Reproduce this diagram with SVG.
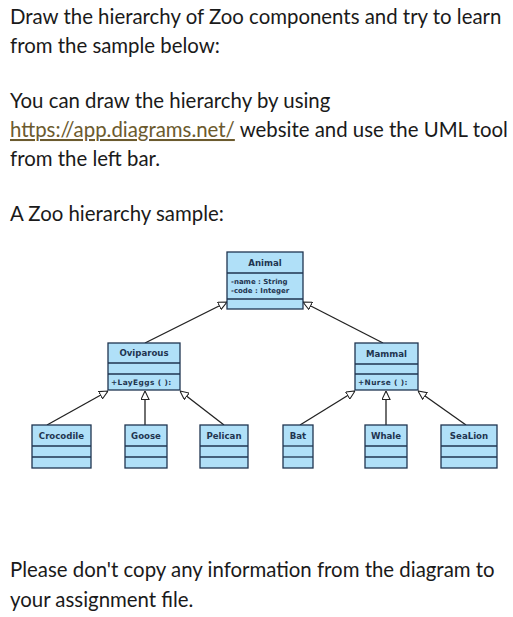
<svg xmlns="http://www.w3.org/2000/svg" width="513" height="617" viewBox="0 0 513 617">
<style>
.t{font-family:Lato,"Open Sans","Liberation Sans",sans-serif;font-size:20.4px;fill:#1a1a1a}
.lnk{fill:#6b5a2e;text-decoration:underline}
.box{fill:#b0e0f8;stroke:#1f3550;stroke-width:1.3}
.sep{stroke:#1f3550;stroke-width:1.3}
.nm{font-family:"DejaVu Sans","Liberation Sans",sans-serif;font-size:8.6px;font-weight:bold;fill:#1f3550;text-anchor:middle}
.at{font-family:"DejaVu Sans","Liberation Sans",sans-serif;font-size:7px;font-weight:bold;fill:#1f3550}
.op{font-family:"DejaVu Sans","Liberation Sans",sans-serif;font-size:7.4px;font-weight:bold;fill:#1f3550;letter-spacing:0.4px}
.c{stroke:#222;stroke-width:1.3;fill:none;marker-end:url(#tri)}
</style>
<defs>
<marker id="tri" viewBox="0 0 10 10" refX="10" refY="5" markerWidth="9" markerHeight="9" markerUnits="userSpaceOnUse" orient="auto">
<path d="M0.5,0.5 L10,5 L0.5,9.5 z" fill="#fff" stroke="#222" stroke-width="1.2"/>
</marker>
</defs>
<rect width="513" height="617" fill="#fff"/>
<g id="text">
<text class="t" x="10" y="24">Draw the hierarchy of Zoo components and try to learn</text>
<text class="t" x="10" y="53">from the sample below:</text>
<text class="t" x="10" y="108">You can draw the hierarchy by using</text>
<text class="t" x="10" y="137"><tspan class="lnk">https://app.diagrams.net/</tspan> website and use the UML tool</text>
<text class="t" x="10" y="166">from the left bar.</text>
<text class="t" x="10" y="221">A Zoo hierarchy sample:</text>
<text class="t" x="10" y="577">Please don't copy any information from the diagram to</text>
<text class="t" x="10" y="607">your assignment file.</text>
</g>
<g id="connectors">
<line class="c" x1="145" y1="343" x2="227" y2="302"/>
<line class="c" x1="383" y1="343" x2="303" y2="302"/>
<line class="c" x1="47" y1="425" x2="108" y2="391"/>
<line class="c" x1="145" y1="425" x2="145" y2="391"/>
<line class="c" x1="224" y1="425" x2="180" y2="391"/>
<line class="c" x1="300" y1="425" x2="355" y2="391"/>
<line class="c" x1="386" y1="425" x2="386" y2="391"/>
<line class="c" x1="466" y1="425" x2="418" y2="391"/>
</g>
<g id="animal">
<rect class="box" x="227" y="252" width="76" height="57"/>
<line class="sep" x1="227" y1="273" x2="303" y2="273"/>
<line class="sep" x1="227" y1="299" x2="303" y2="299"/>
<text class="nm" x="265" y="266">Animal</text>
<text class="at" x="231" y="284">-name : String</text>
<text class="at" x="231" y="293">-code : Integer</text>
</g>
<g id="oviparous">
<rect class="box" x="108" y="343" width="72" height="47"/>
<line class="sep" x1="108" y1="363" x2="180" y2="363"/>
<line class="sep" x1="108" y1="374" x2="180" y2="374"/>
<text class="nm" x="144" y="356">Oviparous</text>
<text class="op" x="111" y="385">+LayEggs ( ):</text>
</g>
<g id="mammal">
<rect class="box" x="355" y="343" width="63" height="47"/>
<line class="sep" x1="355" y1="364" x2="418" y2="364"/>
<line class="sep" x1="355" y1="374" x2="418" y2="374"/>
<text class="nm" x="386.5" y="357">Mammal</text>
<text class="op" x="358" y="385">+Nurse ( ):</text>
</g>
<g id="crocodile">
<rect class="box" x="32" y="425" width="59" height="43"/>
<line class="sep" x1="32" y1="446" x2="91" y2="446"/>
<line class="sep" x1="32" y1="457" x2="91" y2="457"/>
<text class="nm" x="61.5" y="439">Crocodile</text>
</g>
<g id="goose">
<rect class="box" x="125" y="425" width="42" height="43"/>
<line class="sep" x1="125" y1="446" x2="167" y2="446"/>
<line class="sep" x1="125" y1="457" x2="167" y2="457"/>
<text class="nm" x="146" y="439">Goose</text>
</g>
<g id="pelican">
<rect class="box" x="200" y="425" width="48" height="43"/>
<line class="sep" x1="200" y1="446" x2="248" y2="446"/>
<line class="sep" x1="200" y1="457" x2="248" y2="457"/>
<text class="nm" x="224" y="439">Pelican</text>
</g>
<g id="bat">
<rect class="box" x="283" y="425" width="30" height="43"/>
<line class="sep" x1="283" y1="446" x2="313" y2="446"/>
<line class="sep" x1="283" y1="457" x2="313" y2="457"/>
<text class="nm" x="298" y="439">Bat</text>
</g>
<g id="whale">
<rect class="box" x="365" y="425" width="42" height="43"/>
<line class="sep" x1="365" y1="446" x2="407" y2="446"/>
<line class="sep" x1="365" y1="457" x2="407" y2="457"/>
<text class="nm" x="386" y="439">Whale</text>
</g>
<g id="sealion">
<rect class="box" x="441" y="425" width="56" height="43"/>
<line class="sep" x1="441" y1="446" x2="497" y2="446"/>
<line class="sep" x1="441" y1="457" x2="497" y2="457"/>
<text class="nm" x="469" y="439">SeaLion</text>
</g>
</svg>
